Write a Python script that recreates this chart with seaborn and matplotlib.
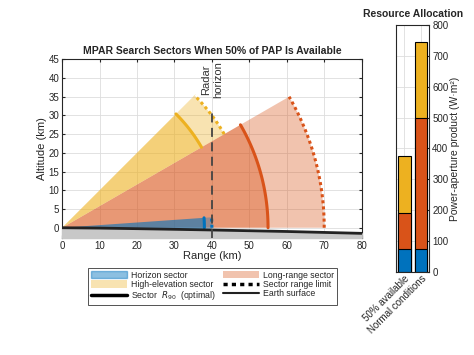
import numpy as np
import pandas as pd
import seaborn as sns
import matplotlib.pyplot as plt
from matplotlib.patches import Patch
from matplotlib.lines import Line2D

# sectors: elevation limits (deg), optimal range R90 and range limit (km)
sector_names = ['Horizon sector', 'High-elevation sector', 'Long-range sector']
sector_el_lo = [-0.8, 30, 0]
sector_el_hi = [4, 45, 30]
sector_r90 = [38, 43, 55]
sector_rmax = [40, 50, 70]
sector_colors = ['#0072BD', '#EDB120', '#D95319']

# earth surface seen from the radar
earth_x = [0, 10, 20, 30, 40, 50, 60, 70, 80]
earth_y = [0, -0.1, -0.25, -0.42, -0.6, -0.8, -1.0, -1.25, -1.5]
radar_horizon = 40

# resource allocation (W m^2)
conditions = ['50% available', 'Normal conditions']
pap_horizon = [75, 75]
pap_longrange = [115, 422]
pap_highel = [185, 248]

sns.set_style('whitegrid')
plt.rcParams['font.family'] = ['Liberation Sans', 'DejaVu Sans']

fig = plt.figure(figsize=(4.74, 3.55), dpi=100)
ax = fig.add_axes([0.131, 0.330, 0.632, 0.503])
ax2 = fig.add_axes([0.835, 0.234, 0.071, 0.696])


def wedge(el_lo, el_hi, r_in, r_out):
    th = np.radians(np.linspace(el_lo, el_hi, 60))
    xo, yo = r_out * np.cos(th), r_out * np.sin(th)
    xi, yi = r_in * np.cos(th[::-1]), r_in * np.sin(th[::-1])
    return np.r_[xo, xi], np.r_[yo, yi]


# draw long-range first, then high-elevation, then horizon on top
for i in [2, 1, 0]:
    c = sector_colors[i]
    x, y = wedge(sector_el_lo[i], sector_el_hi[i], 0, sector_r90[i])
    ax.fill(x, y, color=c, alpha=0.6, lw=0, zorder=2)
    x, y = wedge(sector_el_lo[i], sector_el_hi[i], sector_r90[i], sector_rmax[i])
    ax.fill(x, y, color=c, alpha=0.35, lw=0, zorder=2)
    th = np.radians(np.linspace(max(sector_el_lo[i], 0), sector_el_hi[i], 60))
    sns.lineplot(x=sector_r90[i] * np.cos(th), y=sector_r90[i] * np.sin(th), sort=False,
                 color=c, lw=2.2, ax=ax, zorder=4)
    ax.plot(sector_rmax[i] * np.cos(th), sector_rmax[i] * np.sin(th),
            color=c, lw=2.2, ls=(0, (1, 1)), zorder=4)

# earth
ax.fill_between(earth_x, earth_y, -2.7, color='#c8c8c8', zorder=3)
sns.lineplot(x=earth_x, y=earth_y, color='#222222', lw=2, ax=ax, zorder=5)

# radar horizon
ax.plot([radar_horizon, radar_horizon], [-2.7, 32], color='#444444', lw=1.3,
        ls=(0, (5, 3)), zorder=6)
ax.text(radar_horizon, 44.5, 'Radar\nhorizon', rotation=90, ha='center', va='top',
        fontsize=8, color='#333333', linespacing=1.25, zorder=6)

ax.set_xlim(0, 80)
ax.set_ylim(-2.7, 45)
ax.set_xticks(range(0, 81, 10))
ax.set_yticks(range(0, 46, 5))
ax.tick_params(labelsize=7, length=2.5, direction='in', pad=2, colors='#262626')
ax.tick_params(axis='y', right=True, left=True)
ax.tick_params(axis='x', top=True, bottom=True)
ax.grid(color='#dddddd', lw=0.6)
for s in ax.spines.values():
    s.set_color('#262626')
    s.set_linewidth(0.8)
ax.set_xlabel('Range (km)', fontsize=8, labelpad=0)
ax.set_ylabel('Altitude (km)', fontsize=8, labelpad=1)
ax.set_title('MPAR Search Sectors When 50% of PAP Is Available', fontsize=7.5,
             fontweight='bold', pad=4)

handles = [
    Patch(facecolor=sector_colors[0], alpha=0.45, edgecolor=sector_colors[0]),
    Patch(facecolor=sector_colors[1], alpha=0.35, edgecolor='none'),
    Line2D([], [], color='black', lw=2.5),
    Patch(facecolor=sector_colors[2], alpha=0.35, edgecolor='none'),
    Line2D([], [], color='black', lw=2.5, ls=(0, (1.2, 1.2))),
    Line2D([], [], color='#222222', lw=1.5),
]
labels = ['Horizon sector', 'High-elevation sector', r'Sector  $R_{90}$  (optimal)',
          'Long-range sector', 'Sector range limit', 'Earth surface']
leg = fig.legend(handles, labels, ncol=2, loc='center', bbox_to_anchor=(0.448, 0.193),
                 fontsize=6.3, frameon=True, fancybox=False, handlelength=4.2,
                 handleheight=0.9, labelspacing=0.05, columnspacing=0.8,
                 handletextpad=0.4, borderpad=0.3, edgecolor='#262626')
leg.get_frame().set_linewidth(0.7)

# stacked bars
df = pd.DataFrame({'cond': conditions,
                   'h': pap_horizon,
                   'hl': np.add(pap_horizon, pap_longrange),
                   'hle': np.add(np.add(pap_horizon, pap_longrange), pap_highel)})
for col, c in [('hle', sector_colors[1]), ('hl', sector_colors[2]), ('h', sector_colors[0])]:
    sns.barplot(data=df, x='cond', y=col, color=c, edgecolor='black', linewidth=0.8,
                width=0.75, saturation=1, ax=ax2)
ax2.set_ylim(0, 800)
ax2.set_yticks(range(0, 801, 100))
ax2.yaxis.tick_right()
ax2.yaxis.set_label_position('right')
ax2.set_ylabel('Power-aperture product (W·m²)', fontsize=7.5, labelpad=1)
ax2.set_xlabel('')
ax2.set_xticks([0, 1])
ax2.set_xticklabels(conditions, rotation=45, ha='right', rotation_mode='anchor',
                    fontsize=6.5)
ax2.tick_params(labelsize=7, length=2.5, direction='in', pad=2, colors='#262626')
ax2.tick_params(axis='x', pad=1)
ax2.grid(color='#dddddd', lw=0.6)
for s in ax2.spines.values():
    s.set_color('#262626')
    s.set_linewidth(0.8)
ax2.set_title('Resource Allocation', fontsize=7.5, fontweight='bold', pad=6)

fig.savefig('out.png', dpi=100)
